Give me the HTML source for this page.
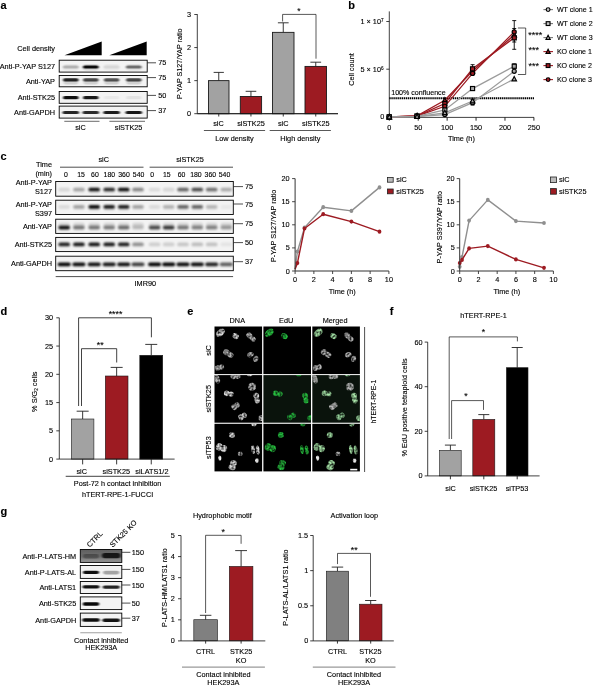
<!DOCTYPE html>
<html lang="en"><head><meta charset="utf-8"><title>Figure</title>
<style>html,body{margin:0;padding:0;background:#fff}body{width:593px;height:685px;overflow:hidden}svg{display:block}text{font-family:'Liberation Sans', sans-serif;stroke:#000;stroke-width:0.12px}</style>
</head><body>
<svg width="593" height="685" viewBox="0 0 593 685">
<defs>
<filter id="b1" x="-30%" y="-80%" width="160%" height="260%"><feGaussianBlur stdDeviation="1.0 0.65"/></filter>
<filter id="b2" x="-30%" y="-80%" width="160%" height="260%"><feGaussianBlur stdDeviation="1.0 0.8"/></filter>
<filter id="cb" x="0" y="0" width="100%" height="100%"><feTurbulence type="fractalNoise" baseFrequency="0.5" numOctaves="2" seed="4" result="n"/><feColorMatrix in="n" type="matrix" values="0 0 0 0 0 0 0 0 0 0 0 0 0 0 0 2.0 0 0 0 -0.3" result="a"/><feGaussianBlur in="SourceGraphic" stdDeviation="0.5" result="g"/><feComposite in="g" in2="a" operator="in" result="m"/><feGaussianBlur in="m" stdDeviation="0.3"/></filter>
<linearGradient id="hm" x1="0" y1="0" x2="0" y2="1"><stop offset="0" stop-color="#5e5e5e"/><stop offset="0.55" stop-color="#707070"/><stop offset="1" stop-color="#9a9a9a"/></linearGradient>
<filter id="sb" x="-50%" y="-50%" width="200%" height="200%"><feGaussianBlur stdDeviation="0.45"/></filter>
</defs>
<rect width="593" height="685" fill="#fff"/>
<text x="0.6" y="8.9" font-size="11" text-anchor="start" font-weight="bold" fill="#000">a</text>
<text x="348.2" y="8.9" font-size="11" text-anchor="start" font-weight="bold" fill="#000">b</text>
<text x="0.4" y="160.3" font-size="11" text-anchor="start" font-weight="bold" fill="#000">c</text>
<text x="0.4" y="314.9" font-size="11" text-anchor="start" font-weight="bold" fill="#000">d</text>
<text x="187.3" y="315" font-size="11" text-anchor="start" font-weight="bold" fill="#000">e</text>
<text x="389.8" y="314.9" font-size="11" text-anchor="start" font-weight="bold" fill="#000">f</text>
<text x="0.4" y="514.5" font-size="11" text-anchor="start" font-weight="bold" fill="#000">g</text>
<g id="panel-a">
<text x="55" y="50.6" font-size="7.3" text-anchor="end" font-weight="normal" fill="#000">Cell density</text>
<polygon points="64.5,55.3 101.7,55.3 101.7,41.4" fill="#000"/>
<polygon points="109.3,55.3 146.7,55.3 146.7,41.4" fill="#000"/>
<clipPath id="c1"><rect x="59.2" y="60.2" width="88.0" height="11.9"/></clipPath>
<rect x="59.20" y="60.20" width="88.00" height="11.90" fill="#f3f3f3" stroke="none" stroke-width="0"/>
<g clip-path="url(#c1)">
<rect x="62.55" y="64.05" width="16.50" height="6.50" rx="3.25" fill="#000" opacity="0.052000000000000005" filter="url(#b1)"/>
<rect x="82.55" y="64.05" width="16.50" height="6.50" rx="3.25" fill="#000" opacity="0.125" filter="url(#b1)"/>
<rect x="103.35" y="64.05" width="16.50" height="6.50" rx="3.25" fill="#000" opacity="0.037" filter="url(#b1)"/>
<rect x="125.55" y="64.05" width="16.50" height="6.50" rx="3.25" fill="#000" opacity="0.08" filter="url(#b1)"/>
<rect x="63.05" y="65.40" width="15.50" height="3.20" rx="1.60" fill="#000" opacity="0.22" filter="url(#b1)"/>
<rect x="83.05" y="65.40" width="15.50" height="3.20" rx="1.60" fill="#000" opacity="0.95" filter="url(#b1)"/>
<rect x="103.85" y="65.40" width="15.50" height="3.20" rx="1.60" fill="#000" opacity="0.07" filter="url(#b1)"/>
<rect x="126.05" y="65.40" width="15.50" height="3.20" rx="1.60" fill="#000" opacity="0.5" filter="url(#b1)"/>
</g>
<rect x="59.20" y="60.20" width="88.00" height="11.90" fill="none" stroke="#000" stroke-width="0.9"/>
<text x="55" y="68.65" font-size="7.3" text-anchor="end" font-weight="normal" fill="#000">Anti-P-YAP S127</text>
<line x1="147.2" y1="62.8" x2="156" y2="62.8" stroke="#222" stroke-width="0.8"/>
<text x="158.3" y="65.39999999999999" font-size="7.3" text-anchor="start" font-weight="normal" fill="#000">75</text>
<clipPath id="c2"><rect x="59.2" y="75.5" width="88.0" height="11.3"/></clipPath>
<rect x="59.20" y="75.50" width="88.00" height="11.30" fill="#f3f3f3" stroke="none" stroke-width="0"/>
<g clip-path="url(#c2)">
<rect x="63.55" y="80.50" width="14.50" height="4.00" rx="2.00" fill="#000" opacity="0.14" filter="url(#b1)"/>
<rect x="83.55" y="80.50" width="14.50" height="4.00" rx="2.00" fill="#000" opacity="0.14" filter="url(#b1)"/>
<rect x="104.35" y="80.50" width="14.50" height="4.00" rx="2.00" fill="#000" opacity="0.14" filter="url(#b1)"/>
<rect x="126.55" y="80.50" width="14.50" height="4.00" rx="2.00" fill="#000" opacity="0.14" filter="url(#b1)"/>
<rect x="63.05" y="78.30" width="15.50" height="3.20" rx="1.60" fill="#000" opacity="0.85" filter="url(#b1)"/>
<rect x="83.05" y="78.30" width="15.50" height="3.20" rx="1.60" fill="#000" opacity="0.7" filter="url(#b1)"/>
<rect x="103.85" y="78.30" width="15.50" height="3.20" rx="1.60" fill="#000" opacity="0.65" filter="url(#b1)"/>
<rect x="126.05" y="78.30" width="15.50" height="3.20" rx="1.60" fill="#000" opacity="0.7" filter="url(#b1)"/>
</g>
<rect x="59.20" y="75.50" width="88.00" height="11.30" fill="none" stroke="#000" stroke-width="0.9"/>
<text x="55" y="83.65" font-size="7.3" text-anchor="end" font-weight="normal" fill="#000">Anti-YAP</text>
<line x1="147.2" y1="77.6" x2="156" y2="77.6" stroke="#222" stroke-width="0.8"/>
<text x="158.3" y="80.19999999999999" font-size="7.3" text-anchor="start" font-weight="normal" fill="#000">75</text>
<clipPath id="c3"><rect x="59.2" y="91.5" width="88.0" height="11.8"/></clipPath>
<rect x="59.20" y="91.50" width="88.00" height="11.80" fill="#f3f3f3" stroke="none" stroke-width="0"/>
<g clip-path="url(#c3)">
<rect x="63.05" y="96.10" width="15.50" height="3.20" rx="1.60" fill="#000" opacity="0.95" filter="url(#b1)"/>
<rect x="83.05" y="96.10" width="15.50" height="3.20" rx="1.60" fill="#000" opacity="0.9" filter="url(#b1)"/>
<rect x="103.85" y="96.10" width="15.50" height="3.20" rx="1.60" fill="#000" opacity="0.04" filter="url(#b1)"/>
<rect x="126.05" y="96.10" width="15.50" height="3.20" rx="1.60" fill="#000" opacity="0.06" filter="url(#b1)"/>
</g>
<rect x="59.20" y="91.50" width="88.00" height="11.80" fill="none" stroke="#000" stroke-width="0.9"/>
<text x="55" y="99.9" font-size="7.3" text-anchor="end" font-weight="normal" fill="#000">Anti-STK25</text>
<line x1="147.2" y1="95.4" x2="156" y2="95.4" stroke="#222" stroke-width="0.8"/>
<text x="158.3" y="98.0" font-size="7.3" text-anchor="start" font-weight="normal" fill="#000">50</text>
<clipPath id="c4"><rect x="59.2" y="106.1" width="88.0" height="12.0"/></clipPath>
<rect x="59.20" y="106.10" width="88.00" height="12.00" fill="#f3f3f3" stroke="none" stroke-width="0"/>
<g clip-path="url(#c4)">
<rect x="62.55" y="110.90" width="16.50" height="3.20" rx="1.60" fill="#000" opacity="0.85" filter="url(#b1)"/>
<rect x="82.55" y="110.90" width="16.50" height="3.20" rx="1.60" fill="#000" opacity="0.82" filter="url(#b1)"/>
<rect x="103.35" y="110.90" width="16.50" height="3.20" rx="1.60" fill="#000" opacity="0.88" filter="url(#b1)"/>
<rect x="125.55" y="110.90" width="16.50" height="3.20" rx="1.60" fill="#000" opacity="0.9" filter="url(#b1)"/>
</g>
<rect x="59.20" y="106.10" width="88.00" height="12.00" fill="none" stroke="#000" stroke-width="0.9"/>
<text x="55" y="114.6" font-size="7.3" text-anchor="end" font-weight="normal" fill="#000">Anti-GAPDH</text>
<line x1="147.2" y1="110.6" x2="156" y2="110.6" stroke="#222" stroke-width="0.8"/>
<text x="158.3" y="113.19999999999999" font-size="7.3" text-anchor="start" font-weight="normal" fill="#000">37</text>
<line x1="64.3" y1="121.3" x2="99.5" y2="121.3" stroke="#444" stroke-width="0.8"/>
<line x1="109.4" y1="121.3" x2="145" y2="121.3" stroke="#444" stroke-width="0.8"/>
<text x="80.4" y="129.8" font-size="7.3" text-anchor="middle" font-weight="normal" fill="#000">siC</text>
<text x="128.6" y="129.8" font-size="7.3" text-anchor="middle" font-weight="normal" fill="#000">siSTK25</text>
</g>
<g id="panel-a-bars">
<line x1="197.3" y1="14.2" x2="197.3" y2="113.7" stroke="#111" stroke-width="0.8"/>
<line x1="197.3" y1="113.7" x2="338" y2="113.7" stroke="#111" stroke-width="0.8"/>
<line x1="194.3" y1="113.7" x2="197.3" y2="113.7" stroke="#111" stroke-width="0.8"/>
<text x="191.0" y="116.2" font-size="7.3" text-anchor="end" font-weight="normal" fill="#000">0</text>
<line x1="194.3" y1="80.63333333333333" x2="197.3" y2="80.63333333333333" stroke="#111" stroke-width="0.8"/>
<text x="191.0" y="83.13333333333333" font-size="7.3" text-anchor="end" font-weight="normal" fill="#000">1</text>
<line x1="194.3" y1="47.56666666666666" x2="197.3" y2="47.56666666666666" stroke="#111" stroke-width="0.8"/>
<text x="191.0" y="50.06666666666666" font-size="7.3" text-anchor="end" font-weight="normal" fill="#000">2</text>
<line x1="194.3" y1="14.499999999999986" x2="197.3" y2="14.499999999999986" stroke="#111" stroke-width="0.8"/>
<text x="191.0" y="16.999999999999986" font-size="7.3" text-anchor="end" font-weight="normal" fill="#000">3</text>
<text x="181.6" y="63.8" font-size="7.1" text-anchor="middle" font-weight="normal" fill="#000" transform="rotate(-90 181.6 63.8)">P-YAP S127/YAP ratio</text>
<line x1="218.75" y1="80.63333333333333" x2="218.75" y2="72.4" stroke="#222" stroke-width="0.9"/>
<line x1="213.625" y1="72.4" x2="223.875" y2="72.4" stroke="#222" stroke-width="0.9"/>
<rect x="208.50" y="80.63" width="20.50" height="33.07" fill="#a2a2a2" stroke="#1a1a1a" stroke-width="0.9"/>
<line x1="218.75" y1="113.7" x2="218.75" y2="116.5" stroke="#222" stroke-width="0.9"/>
<line x1="250.95000000000002" y1="96.50533333333334" x2="250.95000000000002" y2="91.3" stroke="#222" stroke-width="0.9"/>
<line x1="245.625" y1="91.3" x2="256.27500000000003" y2="91.3" stroke="#222" stroke-width="0.9"/>
<rect x="240.30" y="96.51" width="21.30" height="17.19" fill="#9d1b22" stroke="#1a1a1a" stroke-width="0.9"/>
<line x1="250.95000000000002" y1="113.7" x2="250.95000000000002" y2="116.5" stroke="#222" stroke-width="0.9"/>
<line x1="283.25" y1="32.355999999999995" x2="283.25" y2="22.8" stroke="#222" stroke-width="0.9"/>
<line x1="277.875" y1="22.8" x2="288.625" y2="22.8" stroke="#222" stroke-width="0.9"/>
<rect x="272.50" y="32.36" width="21.50" height="81.34" fill="#a2a2a2" stroke="#1a1a1a" stroke-width="0.9"/>
<line x1="283.25" y1="113.7" x2="283.25" y2="116.5" stroke="#222" stroke-width="0.9"/>
<line x1="315.75" y1="66.41466666666668" x2="315.75" y2="62.2" stroke="#222" stroke-width="0.9"/>
<line x1="310.375" y1="62.2" x2="321.125" y2="62.2" stroke="#222" stroke-width="0.9"/>
<rect x="305.00" y="66.41" width="21.50" height="47.29" fill="#9d1b22" stroke="#1a1a1a" stroke-width="0.9"/>
<line x1="315.75" y1="113.7" x2="315.75" y2="116.5" stroke="#222" stroke-width="0.9"/>
<line x1="197.3" y1="113.7" x2="338" y2="113.7" stroke="#111" stroke-width="0.8"/>
<path d="M282.6 21.5 V14.4 H316 V58.7" stroke="#111" stroke-width="0.7" fill="none"/>
<text x="299" y="13.8" font-size="8.4" text-anchor="middle" font-weight="normal" fill="#000">*</text>
<text x="218.4" y="126.1" font-size="7.3" text-anchor="middle" font-weight="normal" fill="#000">siC</text>
<text x="251" y="126.1" font-size="7.3" text-anchor="middle" font-weight="normal" fill="#000">siSTK25</text>
<text x="283.2" y="126.1" font-size="7.3" text-anchor="middle" font-weight="normal" fill="#000">siC</text>
<text x="315.8" y="126.1" font-size="7.3" text-anchor="middle" font-weight="normal" fill="#000">siSTK25</text>
<line x1="203.9" y1="130.5" x2="265.1" y2="130.5" stroke="#111" stroke-width="0.7"/>
<line x1="269.7" y1="130.5" x2="330.9" y2="130.5" stroke="#111" stroke-width="0.7"/>
<text x="234.5" y="141.1" font-size="7.3" text-anchor="middle" font-weight="normal" fill="#000">Low density</text>
<text x="300.3" y="141.1" font-size="7.3" text-anchor="middle" font-weight="normal" fill="#000">High density</text>
</g>
<g id="panel-b">
<line x1="389.3" y1="11.4" x2="389.3" y2="117.4" stroke="#111" stroke-width="0.8"/>
<line x1="389.3" y1="117.4" x2="534" y2="117.4" stroke="#111" stroke-width="0.8"/>
<line x1="386.3" y1="116.9" x2="389.3" y2="116.9" stroke="#111" stroke-width="0.8"/>
<line x1="386.3" y1="69.2" x2="389.3" y2="69.2" stroke="#111" stroke-width="0.8"/>
<line x1="386.3" y1="21.5" x2="389.3" y2="21.5" stroke="#111" stroke-width="0.8"/>
<line x1="389.3" y1="117.4" x2="389.3" y2="120.7" stroke="#111" stroke-width="0.9"/>
<text x="389.3" y="129.6" font-size="7.3" text-anchor="middle" font-weight="normal" fill="#000">0</text>
<line x1="418.22" y1="117.4" x2="418.22" y2="120.7" stroke="#111" stroke-width="0.9"/>
<text x="418.22" y="129.6" font-size="7.3" text-anchor="middle" font-weight="normal" fill="#000">50</text>
<line x1="447.14" y1="117.4" x2="447.14" y2="120.7" stroke="#111" stroke-width="0.9"/>
<text x="447.14" y="129.6" font-size="7.3" text-anchor="middle" font-weight="normal" fill="#000">100</text>
<line x1="476.06" y1="117.4" x2="476.06" y2="120.7" stroke="#111" stroke-width="0.9"/>
<text x="476.06" y="129.6" font-size="7.3" text-anchor="middle" font-weight="normal" fill="#000">150</text>
<line x1="504.97999999999996" y1="117.4" x2="504.97999999999996" y2="120.7" stroke="#111" stroke-width="0.9"/>
<text x="504.97999999999996" y="129.6" font-size="7.3" text-anchor="middle" font-weight="normal" fill="#000">200</text>
<line x1="533.9" y1="117.4" x2="533.9" y2="120.7" stroke="#111" stroke-width="0.9"/>
<text x="533.9" y="129.6" font-size="7.3" text-anchor="middle" font-weight="normal" fill="#000">250</text>
<text x="384.4" y="119.4" font-size="7.3" text-anchor="end" font-weight="normal" fill="#000">0</text>
<text x="383.6" y="71.8" font-size="7.3" text-anchor="end" fill="#000">5 × 10<tspan font-size="4.7" dy="-2.3">6</tspan></text>
<text x="383.6" y="24.1" font-size="7.3" text-anchor="end" fill="#000">1 × 10<tspan font-size="4.7" dy="-2.3">7</tspan></text>
<text x="354" y="69.5" font-size="7.3" text-anchor="middle" font-weight="normal" fill="#000" transform="rotate(-90 354 69.5)">Cell count</text>
<text x="461.4" y="141" font-size="7.3" text-anchor="middle" font-weight="normal" fill="#000">Time (h)</text>
<text x="391.2" y="95.3" font-size="7.1" text-anchor="start" font-weight="normal" fill="#000">100% confluence</text>
<line x1="389.3" y1="98.2" x2="534" y2="98.2" stroke="#000" stroke-width="2.1" stroke-dasharray="1.4 0.65"/>
<polyline points="389.3,116.9 417.1,115.8 444.8,100.2 472.6,71.0 514.2,35.0" fill="none" stroke="#9d1b22" stroke-width="1.3"/>
<polyline points="389.3,116.9 417.1,116.0 444.8,103.5 472.6,68.8 514.2,37.8" fill="none" stroke="#9d1b22" stroke-width="1.3"/>
<polyline points="389.3,116.9 417.1,116.2 444.8,106.3 472.6,73.4 514.2,31.9" fill="none" stroke="#9d1b22" stroke-width="1.3"/>
<polyline points="389.3,116.9 417.1,116.5 444.8,114.6 472.6,102.7 514.2,71.3" fill="none" stroke="#9c9c9c" stroke-width="1.3"/>
<polyline points="389.3,116.9 417.1,116.3 444.8,110.0 472.6,88.6 514.2,66.2" fill="none" stroke="#9c9c9c" stroke-width="1.3"/>
<polyline points="389.3,116.9 417.1,116.6 444.8,112.8 472.6,101.0 514.2,78.9" fill="none" stroke="#9c9c9c" stroke-width="1.3"/>
<line x1="514.2343999999999" y1="20.6" x2="514.2343999999999" y2="49.3" stroke="#000" stroke-width="0.9"/>
<line x1="512.2343999999999" y1="20.6" x2="516.2343999999999" y2="20.6" stroke="#000" stroke-width="0.9"/>
<line x1="512.2343999999999" y1="49.3" x2="516.2343999999999" y2="49.3" stroke="#000" stroke-width="0.9"/>
<line x1="514.2343999999999" y1="28.5" x2="514.2343999999999" y2="42" stroke="#000" stroke-width="0.9"/>
<line x1="512.2343999999999" y1="28.5" x2="516.2343999999999" y2="28.5" stroke="#000" stroke-width="0.9"/>
<line x1="512.2343999999999" y1="42" x2="516.2343999999999" y2="42" stroke="#000" stroke-width="0.9"/>
<line x1="472.5896" y1="64.7" x2="472.5896" y2="74.5" stroke="#000" stroke-width="0.9"/>
<line x1="470.5896" y1="64.7" x2="474.5896" y2="64.7" stroke="#000" stroke-width="0.9"/>
<line x1="470.5896" y1="74.5" x2="474.5896" y2="74.5" stroke="#000" stroke-width="0.9"/>
<line x1="514.2343999999999" y1="63.8" x2="514.2343999999999" y2="69" stroke="#000" stroke-width="0.9"/>
<line x1="512.2343999999999" y1="63.8" x2="516.2343999999999" y2="63.8" stroke="#000" stroke-width="0.9"/>
<line x1="512.2343999999999" y1="69" x2="516.2343999999999" y2="69" stroke="#000" stroke-width="0.9"/>
<line x1="472.5896" y1="99.5" x2="472.5896" y2="105" stroke="#000" stroke-width="0.9"/>
<line x1="470.5896" y1="99.5" x2="474.5896" y2="99.5" stroke="#000" stroke-width="0.9"/>
<line x1="470.5896" y1="105" x2="474.5896" y2="105" stroke="#000" stroke-width="0.9"/>
<polygon points="389.3,114.5 391.6,118.8 387.1,118.8" fill="#9d1b22" stroke="#000" stroke-width="1.15"/>
<polygon points="417.1,113.3 419.3,117.6 414.8,117.6" fill="#9d1b22" stroke="#000" stroke-width="1.15"/>
<polygon points="444.8,97.8 447.1,102.0 442.6,102.0" fill="#9d1b22" stroke="#000" stroke-width="1.15"/>
<polygon points="472.6,68.5 474.8,72.8 470.3,72.8" fill="#9d1b22" stroke="#000" stroke-width="1.15"/>
<polygon points="514.2,32.6 516.5,36.8 512.0,36.8" fill="#9d1b22" stroke="#000" stroke-width="1.15"/>
<rect x="387.2" y="114.9" width="4.1" height="4.1" fill="#9d1b22" stroke="#000" stroke-width="1.15"/>
<rect x="415.0" y="114.0" width="4.1" height="4.1" fill="#9d1b22" stroke="#000" stroke-width="1.15"/>
<rect x="442.8" y="101.5" width="4.1" height="4.1" fill="#9d1b22" stroke="#000" stroke-width="1.15"/>
<rect x="470.5" y="66.8" width="4.1" height="4.1" fill="#9d1b22" stroke="#000" stroke-width="1.15"/>
<rect x="512.2" y="35.8" width="4.1" height="4.1" fill="#9d1b22" stroke="#000" stroke-width="1.15"/>
<circle cx="389.3" cy="116.9" r="2.05" fill="#9d1b22" stroke="#000" stroke-width="1.15"/>
<circle cx="417.1" cy="116.2" r="2.05" fill="#9d1b22" stroke="#000" stroke-width="1.15"/>
<circle cx="444.8" cy="106.3" r="2.05" fill="#9d1b22" stroke="#000" stroke-width="1.15"/>
<circle cx="472.6" cy="73.4" r="2.05" fill="#9d1b22" stroke="#000" stroke-width="1.15"/>
<circle cx="514.2" cy="31.9" r="2.05" fill="#9d1b22" stroke="#000" stroke-width="1.15"/>
<circle cx="389.3" cy="116.9" r="2.05" fill="#a8a8a8" stroke="#000" stroke-width="1.15"/>
<circle cx="417.1" cy="116.5" r="2.05" fill="#a8a8a8" stroke="#000" stroke-width="1.15"/>
<circle cx="444.8" cy="114.6" r="2.05" fill="#a8a8a8" stroke="#000" stroke-width="1.15"/>
<circle cx="472.6" cy="102.7" r="2.05" fill="#a8a8a8" stroke="#000" stroke-width="1.15"/>
<circle cx="514.2" cy="71.3" r="2.05" fill="#a8a8a8" stroke="#000" stroke-width="1.15"/>
<rect x="387.2" y="114.9" width="4.1" height="4.1" fill="#a8a8a8" stroke="#000" stroke-width="1.15"/>
<rect x="415.0" y="114.2" width="4.1" height="4.1" fill="#a8a8a8" stroke="#000" stroke-width="1.15"/>
<rect x="442.8" y="108.0" width="4.1" height="4.1" fill="#a8a8a8" stroke="#000" stroke-width="1.15"/>
<rect x="470.5" y="86.5" width="4.1" height="4.1" fill="#a8a8a8" stroke="#000" stroke-width="1.15"/>
<rect x="512.2" y="64.2" width="4.1" height="4.1" fill="#a8a8a8" stroke="#000" stroke-width="1.15"/>
<polygon points="389.3,114.5 391.6,118.8 387.1,118.8" fill="#a8a8a8" stroke="#000" stroke-width="1.15"/>
<polygon points="417.1,114.1 419.3,118.4 414.8,118.4" fill="#a8a8a8" stroke="#000" stroke-width="1.15"/>
<polygon points="444.8,110.3 447.1,114.6 442.6,114.6" fill="#a8a8a8" stroke="#000" stroke-width="1.15"/>
<polygon points="472.6,98.5 474.8,102.8 470.3,102.8" fill="#a8a8a8" stroke="#000" stroke-width="1.15"/>
<polygon points="514.2,76.5 516.5,80.8 512.0,80.8" fill="#a8a8a8" stroke="#000" stroke-width="1.15"/>
<path d="M517.9 28 H525.7 V74.5 H517.9" stroke="#111" stroke-width="0.7" fill="none"/>
<text x="528.2" y="37.6" font-size="9" text-anchor="start" font-weight="normal" fill="#000">****</text>
<text x="528.4" y="52.8" font-size="9" text-anchor="start" font-weight="normal" fill="#000">***</text>
<text x="528.4" y="68.6" font-size="9" text-anchor="start" font-weight="normal" fill="#000">***</text>
<line x1="543.4" y1="9.6" x2="553" y2="9.6" stroke="#777" stroke-width="1.1"/>
<circle cx="548.1" cy="9.6" r="1.9" fill="#c4c4c4" stroke="#000" stroke-width="1.15"/>
<text x="556.9" y="12.2" font-size="7.1" text-anchor="start" font-weight="normal" fill="#000">WT clone 1</text>
<line x1="543.4" y1="23.6" x2="553" y2="23.6" stroke="#777" stroke-width="1.1"/>
<rect x="546.2" y="21.7" width="3.8" height="3.8" fill="#c4c4c4" stroke="#000" stroke-width="1.15"/>
<text x="556.9" y="26.200000000000003" font-size="7.1" text-anchor="start" font-weight="normal" fill="#000">WT clone 2</text>
<line x1="543.4" y1="37.6" x2="553" y2="37.6" stroke="#777" stroke-width="1.1"/>
<polygon points="548.1,35.3 550.2,39.3 546.0,39.3" fill="#c4c4c4" stroke="#000" stroke-width="1.15"/>
<text x="556.9" y="40.2" font-size="7.1" text-anchor="start" font-weight="normal" fill="#000">WT clone 3</text>
<line x1="543.4" y1="51.6" x2="553" y2="51.6" stroke="#9d1b22" stroke-width="1.1"/>
<polygon points="548.1,49.3 550.2,53.3 546.0,53.3" fill="#9d1b22" stroke="#000" stroke-width="1.15"/>
<text x="556.9" y="54.2" font-size="7.1" text-anchor="start" font-weight="normal" fill="#000">KO clone 1</text>
<line x1="543.4" y1="65.6" x2="553" y2="65.6" stroke="#9d1b22" stroke-width="1.1"/>
<rect x="546.2" y="63.7" width="3.8" height="3.8" fill="#9d1b22" stroke="#000" stroke-width="1.15"/>
<text x="556.9" y="68.19999999999999" font-size="7.1" text-anchor="start" font-weight="normal" fill="#000">KO clone 2</text>
<line x1="543.4" y1="79.6" x2="553" y2="79.6" stroke="#9d1b22" stroke-width="1.1"/>
<circle cx="548.1" cy="79.6" r="1.9" fill="#9d1b22" stroke="#000" stroke-width="1.15"/>
<text x="556.9" y="82.19999999999999" font-size="7.1" text-anchor="start" font-weight="normal" fill="#000">KO clone 3</text>
</g>
<g id="panel-c">
<text x="52" y="167.2" font-size="7.3" text-anchor="end" font-weight="normal" fill="#000">Time</text>
<text x="52" y="176.1" font-size="7.3" text-anchor="end" font-weight="normal" fill="#000">(min)</text>
<line x1="60" y1="167.2" x2="143.5" y2="167.2" stroke="#222" stroke-width="0.8"/>
<line x1="149.6" y1="167.2" x2="233" y2="167.2" stroke="#222" stroke-width="0.8"/>
<text x="103.7" y="162.2" font-size="7.3" text-anchor="middle" font-weight="normal" fill="#000">siC</text>
<text x="190" y="162.2" font-size="7.3" text-anchor="middle" font-weight="normal" fill="#000">siSTK25</text>
<text x="65.8" y="176.6" font-size="6.9" text-anchor="middle" font-weight="normal" fill="#000">0</text>
<text x="81" y="176.6" font-size="6.9" text-anchor="middle" font-weight="normal" fill="#000">15</text>
<text x="94.9" y="176.6" font-size="6.9" text-anchor="middle" font-weight="normal" fill="#000">60</text>
<text x="109.3" y="176.6" font-size="6.9" text-anchor="middle" font-weight="normal" fill="#000">180</text>
<text x="124" y="176.6" font-size="6.9" text-anchor="middle" font-weight="normal" fill="#000">360</text>
<text x="138.6" y="176.6" font-size="6.9" text-anchor="middle" font-weight="normal" fill="#000">540</text>
<text x="152.1" y="176.6" font-size="6.9" text-anchor="middle" font-weight="normal" fill="#000">0</text>
<text x="166.8" y="176.6" font-size="6.9" text-anchor="middle" font-weight="normal" fill="#000">15</text>
<text x="181.5" y="176.6" font-size="6.9" text-anchor="middle" font-weight="normal" fill="#000">60</text>
<text x="195.9" y="176.6" font-size="6.9" text-anchor="middle" font-weight="normal" fill="#000">180</text>
<text x="210.3" y="176.6" font-size="6.9" text-anchor="middle" font-weight="normal" fill="#000">360</text>
<text x="224.5" y="176.6" font-size="6.9" text-anchor="middle" font-weight="normal" fill="#000">540</text>
<clipPath id="c5"><rect x="55.7" y="181.5" width="177.6" height="14.7"/></clipPath>
<rect x="55.70" y="181.50" width="177.60" height="14.70" fill="#f3f3f3" stroke="none" stroke-width="0"/>
<g clip-path="url(#c5)">
<rect x="58.40" y="187.65" width="11.60" height="3.70" rx="1.85" fill="#000" opacity="0.12" filter="url(#b2)"/>
<rect x="73.10" y="187.65" width="11.60" height="3.70" rx="1.85" fill="#000" opacity="0.33" filter="url(#b2)"/>
<rect x="88.40" y="187.65" width="11.60" height="3.70" rx="1.85" fill="#000" opacity="0.95" filter="url(#b2)"/>
<rect x="103.40" y="187.65" width="11.60" height="3.70" rx="1.85" fill="#000" opacity="0.85" filter="url(#b2)"/>
<rect x="117.90" y="187.65" width="11.60" height="3.70" rx="1.85" fill="#000" opacity="0.97" filter="url(#b2)"/>
<rect x="132.20" y="187.65" width="11.60" height="3.70" rx="1.85" fill="#000" opacity="0.45" filter="url(#b2)"/>
<rect x="148.80" y="187.65" width="11.60" height="3.70" rx="1.85" fill="#000" opacity="0.1" filter="url(#b2)"/>
<rect x="162.90" y="187.65" width="11.60" height="3.70" rx="1.85" fill="#000" opacity="0.12" filter="url(#b2)"/>
<rect x="177.20" y="187.65" width="11.60" height="3.70" rx="1.85" fill="#000" opacity="0.6" filter="url(#b2)"/>
<rect x="191.50" y="187.65" width="11.60" height="3.70" rx="1.85" fill="#000" opacity="0.7" filter="url(#b2)"/>
<rect x="205.90" y="187.65" width="11.60" height="3.70" rx="1.85" fill="#000" opacity="0.55" filter="url(#b2)"/>
<rect x="220.50" y="187.65" width="11.60" height="3.70" rx="1.85" fill="#000" opacity="0.3" filter="url(#b2)"/>
<rect x="58.40" y="190.10" width="11.60" height="4.00" rx="2.00" fill="#000" opacity="0.006" filter="url(#b2)"/>
<rect x="73.10" y="190.10" width="11.60" height="4.00" rx="2.00" fill="#000" opacity="0.0165" filter="url(#b2)"/>
<rect x="88.40" y="190.10" width="11.60" height="4.00" rx="2.00" fill="#000" opacity="0.0475" filter="url(#b2)"/>
<rect x="103.40" y="190.10" width="11.60" height="4.00" rx="2.00" fill="#000" opacity="0.0425" filter="url(#b2)"/>
<rect x="117.90" y="190.10" width="11.60" height="4.00" rx="2.00" fill="#000" opacity="0.0485" filter="url(#b2)"/>
<rect x="132.20" y="190.10" width="11.60" height="4.00" rx="2.00" fill="#000" opacity="0.022500000000000003" filter="url(#b2)"/>
<rect x="148.80" y="190.10" width="11.60" height="4.00" rx="2.00" fill="#000" opacity="0.005000000000000001" filter="url(#b2)"/>
<rect x="162.90" y="190.10" width="11.60" height="4.00" rx="2.00" fill="#000" opacity="0.006" filter="url(#b2)"/>
<rect x="177.20" y="190.10" width="11.60" height="4.00" rx="2.00" fill="#000" opacity="0.03" filter="url(#b2)"/>
<rect x="191.50" y="190.10" width="11.60" height="4.00" rx="2.00" fill="#000" opacity="0.034999999999999996" filter="url(#b2)"/>
<rect x="205.90" y="190.10" width="11.60" height="4.00" rx="2.00" fill="#000" opacity="0.027500000000000004" filter="url(#b2)"/>
<rect x="220.50" y="190.10" width="11.60" height="4.00" rx="2.00" fill="#000" opacity="0.015" filter="url(#b2)"/>
</g>
<rect x="55.70" y="181.50" width="177.60" height="14.70" fill="none" stroke="#000" stroke-width="0.9"/>
<text x="52" y="185.3" font-size="7.3" text-anchor="end" font-weight="normal" fill="#000">Anti-P-YAP</text>
<text x="52" y="194.3" font-size="7.3" text-anchor="end" font-weight="normal" fill="#000">S127</text>
<line x1="233.3" y1="186.6" x2="243.0" y2="186.6" stroke="#222" stroke-width="0.8"/>
<text x="244.9" y="189.2" font-size="7.3" text-anchor="start" font-weight="normal" fill="#000">75</text>
<clipPath id="c6"><rect x="55.7" y="200.2" width="177.6" height="14.3"/></clipPath>
<rect x="55.70" y="200.20" width="177.60" height="14.30" fill="#f3f3f3" stroke="none" stroke-width="0"/>
<g clip-path="url(#c6)">
<rect x="58.40" y="204.95" width="11.60" height="3.70" rx="1.85" fill="#000" opacity="0.1" filter="url(#b2)"/>
<rect x="73.10" y="204.95" width="11.60" height="3.70" rx="1.85" fill="#000" opacity="0.33" filter="url(#b2)"/>
<rect x="88.40" y="204.95" width="11.60" height="3.70" rx="1.85" fill="#000" opacity="0.97" filter="url(#b2)"/>
<rect x="103.40" y="204.95" width="11.60" height="3.70" rx="1.85" fill="#000" opacity="0.9" filter="url(#b2)"/>
<rect x="117.90" y="204.95" width="11.60" height="3.70" rx="1.85" fill="#000" opacity="0.88" filter="url(#b2)"/>
<rect x="132.20" y="204.95" width="11.60" height="3.70" rx="1.85" fill="#000" opacity="0.33" filter="url(#b2)"/>
<rect x="148.80" y="204.95" width="11.60" height="3.70" rx="1.85" fill="#000" opacity="0.1" filter="url(#b2)"/>
<rect x="162.90" y="204.95" width="11.60" height="3.70" rx="1.85" fill="#000" opacity="0.27" filter="url(#b2)"/>
<rect x="177.20" y="204.95" width="11.60" height="3.70" rx="1.85" fill="#000" opacity="0.58" filter="url(#b2)"/>
<rect x="191.50" y="204.95" width="11.60" height="3.70" rx="1.85" fill="#000" opacity="0.58" filter="url(#b2)"/>
<rect x="205.90" y="204.95" width="11.60" height="3.70" rx="1.85" fill="#000" opacity="0.25" filter="url(#b2)"/>
<rect x="220.50" y="204.95" width="11.60" height="3.70" rx="1.85" fill="#000" opacity="0.04" filter="url(#b2)"/>
<rect x="58.40" y="207.40" width="11.60" height="4.00" rx="2.00" fill="#000" opacity="0.005000000000000001" filter="url(#b2)"/>
<rect x="73.10" y="207.40" width="11.60" height="4.00" rx="2.00" fill="#000" opacity="0.0165" filter="url(#b2)"/>
<rect x="88.40" y="207.40" width="11.60" height="4.00" rx="2.00" fill="#000" opacity="0.0485" filter="url(#b2)"/>
<rect x="103.40" y="207.40" width="11.60" height="4.00" rx="2.00" fill="#000" opacity="0.045000000000000005" filter="url(#b2)"/>
<rect x="117.90" y="207.40" width="11.60" height="4.00" rx="2.00" fill="#000" opacity="0.044000000000000004" filter="url(#b2)"/>
<rect x="132.20" y="207.40" width="11.60" height="4.00" rx="2.00" fill="#000" opacity="0.0165" filter="url(#b2)"/>
<rect x="148.80" y="207.40" width="11.60" height="4.00" rx="2.00" fill="#000" opacity="0.005000000000000001" filter="url(#b2)"/>
<rect x="162.90" y="207.40" width="11.60" height="4.00" rx="2.00" fill="#000" opacity="0.013500000000000002" filter="url(#b2)"/>
<rect x="177.20" y="207.40" width="11.60" height="4.00" rx="2.00" fill="#000" opacity="0.028999999999999998" filter="url(#b2)"/>
<rect x="191.50" y="207.40" width="11.60" height="4.00" rx="2.00" fill="#000" opacity="0.028999999999999998" filter="url(#b2)"/>
<rect x="205.90" y="207.40" width="11.60" height="4.00" rx="2.00" fill="#000" opacity="0.0125" filter="url(#b2)"/>
<rect x="220.50" y="207.40" width="11.60" height="4.00" rx="2.00" fill="#000" opacity="0.002" filter="url(#b2)"/>
</g>
<rect x="55.70" y="200.20" width="177.60" height="14.30" fill="none" stroke="#000" stroke-width="0.9"/>
<text x="52" y="207.0" font-size="7.3" text-anchor="end" font-weight="normal" fill="#000">Anti-P-YAP</text>
<text x="52" y="216.0" font-size="7.3" text-anchor="end" font-weight="normal" fill="#000">S397</text>
<line x1="233.3" y1="204.0" x2="243.0" y2="204.0" stroke="#222" stroke-width="0.8"/>
<text x="244.9" y="206.6" font-size="7.3" text-anchor="start" font-weight="normal" fill="#000">75</text>
<clipPath id="c7"><rect x="55.7" y="219.2" width="177.6" height="14.2"/></clipPath>
<rect x="55.70" y="219.20" width="177.60" height="14.20" fill="#f3f3f3" stroke="none" stroke-width="0"/>
<g clip-path="url(#c7)">
<rect x="58.40" y="222.75" width="11.60" height="4.50" rx="2.25" fill="#000" opacity="0.13" filter="url(#b2)"/>
<rect x="73.10" y="222.75" width="11.60" height="4.50" rx="2.25" fill="#000" opacity="0.13" filter="url(#b2)"/>
<rect x="88.40" y="222.75" width="11.60" height="4.50" rx="2.25" fill="#000" opacity="0.13" filter="url(#b2)"/>
<rect x="103.40" y="222.75" width="11.60" height="4.50" rx="2.25" fill="#000" opacity="0.13" filter="url(#b2)"/>
<rect x="117.90" y="222.75" width="11.60" height="4.50" rx="2.25" fill="#000" opacity="0.13" filter="url(#b2)"/>
<rect x="132.20" y="222.75" width="11.60" height="4.50" rx="2.25" fill="#000" opacity="0.13" filter="url(#b2)"/>
<rect x="148.80" y="222.75" width="11.60" height="4.50" rx="2.25" fill="#000" opacity="0.13" filter="url(#b2)"/>
<rect x="162.90" y="222.75" width="11.60" height="4.50" rx="2.25" fill="#000" opacity="0.13" filter="url(#b2)"/>
<rect x="177.20" y="222.75" width="11.60" height="4.50" rx="2.25" fill="#000" opacity="0.13" filter="url(#b2)"/>
<rect x="191.50" y="222.75" width="11.60" height="4.50" rx="2.25" fill="#000" opacity="0.13" filter="url(#b2)"/>
<rect x="205.90" y="222.75" width="11.60" height="4.50" rx="2.25" fill="#000" opacity="0.13" filter="url(#b2)"/>
<rect x="220.50" y="222.75" width="11.60" height="4.50" rx="2.25" fill="#000" opacity="0.13" filter="url(#b2)"/>
<rect x="58.40" y="225.75" width="11.60" height="3.70" rx="1.85" fill="#000" opacity="0.95" filter="url(#b2)"/>
<rect x="73.10" y="225.75" width="11.60" height="3.70" rx="1.85" fill="#000" opacity="0.5" filter="url(#b2)"/>
<rect x="88.40" y="225.75" width="11.60" height="3.70" rx="1.85" fill="#000" opacity="0.5" filter="url(#b2)"/>
<rect x="103.40" y="225.75" width="11.60" height="3.70" rx="1.85" fill="#000" opacity="0.48" filter="url(#b2)"/>
<rect x="117.90" y="225.75" width="11.60" height="3.70" rx="1.85" fill="#000" opacity="0.55" filter="url(#b2)"/>
<rect x="132.20" y="225.75" width="11.60" height="3.70" rx="1.85" fill="#000" opacity="0.2" filter="url(#b2)"/>
<rect x="148.80" y="225.75" width="11.60" height="3.70" rx="1.85" fill="#000" opacity="0.7" filter="url(#b2)"/>
<rect x="162.90" y="225.75" width="11.60" height="3.70" rx="1.85" fill="#000" opacity="0.78" filter="url(#b2)"/>
<rect x="177.20" y="225.75" width="11.60" height="3.70" rx="1.85" fill="#000" opacity="0.5" filter="url(#b2)"/>
<rect x="191.50" y="225.75" width="11.60" height="3.70" rx="1.85" fill="#000" opacity="0.45" filter="url(#b2)"/>
<rect x="205.90" y="225.75" width="11.60" height="3.70" rx="1.85" fill="#000" opacity="0.45" filter="url(#b2)"/>
<rect x="220.50" y="225.75" width="11.60" height="3.70" rx="1.85" fill="#000" opacity="0.35" filter="url(#b2)"/>
</g>
<rect x="55.70" y="219.20" width="177.60" height="14.20" fill="none" stroke="#000" stroke-width="0.9"/>
<text x="52" y="228.79999999999998" font-size="7.3" text-anchor="end" font-weight="normal" fill="#000">Anti-YAP</text>
<line x1="233.3" y1="223.7" x2="243.0" y2="223.7" stroke="#222" stroke-width="0.8"/>
<text x="244.9" y="226.29999999999998" font-size="7.3" text-anchor="start" font-weight="normal" fill="#000">75</text>
<clipPath id="c8"><rect x="55.7" y="237.4" width="177.6" height="14.2"/></clipPath>
<rect x="55.70" y="237.40" width="177.60" height="14.20" fill="#f3f3f3" stroke="none" stroke-width="0"/>
<g clip-path="url(#c8)">
<rect x="58.40" y="242.55" width="11.60" height="3.70" rx="1.85" fill="#000" opacity="0.88" filter="url(#b2)"/>
<rect x="73.10" y="242.55" width="11.60" height="3.70" rx="1.85" fill="#000" opacity="0.9" filter="url(#b2)"/>
<rect x="88.40" y="242.55" width="11.60" height="3.70" rx="1.85" fill="#000" opacity="0.92" filter="url(#b2)"/>
<rect x="103.40" y="242.55" width="11.60" height="3.70" rx="1.85" fill="#000" opacity="0.9" filter="url(#b2)"/>
<rect x="117.90" y="242.55" width="11.60" height="3.70" rx="1.85" fill="#000" opacity="0.88" filter="url(#b2)"/>
<rect x="132.20" y="242.55" width="11.60" height="3.70" rx="1.85" fill="#000" opacity="0.4" filter="url(#b2)"/>
<rect x="148.80" y="242.55" width="11.60" height="3.70" rx="1.85" fill="#000" opacity="0.15" filter="url(#b2)"/>
<rect x="162.90" y="242.55" width="11.60" height="3.70" rx="1.85" fill="#000" opacity="0.15" filter="url(#b2)"/>
<rect x="177.20" y="242.55" width="11.60" height="3.70" rx="1.85" fill="#000" opacity="0.18" filter="url(#b2)"/>
<rect x="191.50" y="242.55" width="11.60" height="3.70" rx="1.85" fill="#000" opacity="0.22" filter="url(#b2)"/>
<rect x="205.90" y="242.55" width="11.60" height="3.70" rx="1.85" fill="#000" opacity="0.2" filter="url(#b2)"/>
<rect x="220.50" y="242.55" width="11.60" height="3.70" rx="1.85" fill="#000" opacity="0.06" filter="url(#b2)"/>
</g>
<rect x="55.70" y="237.40" width="177.60" height="14.20" fill="none" stroke="#000" stroke-width="0.9"/>
<text x="52" y="247.0" font-size="7.3" text-anchor="end" font-weight="normal" fill="#000">Anti-STK25</text>
<line x1="233.3" y1="242.6" x2="243.0" y2="242.6" stroke="#222" stroke-width="0.8"/>
<text x="244.9" y="245.2" font-size="7.3" text-anchor="start" font-weight="normal" fill="#000">50</text>
<clipPath id="c9"><rect x="55.7" y="256.2" width="177.6" height="14.5"/></clipPath>
<rect x="55.70" y="256.20" width="177.60" height="14.50" fill="#f3f3f3" stroke="none" stroke-width="0"/>
<g clip-path="url(#c9)">
<rect x="57.70" y="262.45" width="13.00" height="3.70" rx="1.85" fill="#000" opacity="1" filter="url(#b2)"/>
<rect x="72.40" y="262.45" width="13.00" height="3.70" rx="1.85" fill="#000" opacity="0.97" filter="url(#b2)"/>
<rect x="87.70" y="262.45" width="13.00" height="3.70" rx="1.85" fill="#000" opacity="0.95" filter="url(#b2)"/>
<rect x="102.70" y="262.45" width="13.00" height="3.70" rx="1.85" fill="#000" opacity="0.92" filter="url(#b2)"/>
<rect x="117.20" y="262.45" width="13.00" height="3.70" rx="1.85" fill="#000" opacity="0.95" filter="url(#b2)"/>
<rect x="131.50" y="262.45" width="13.00" height="3.70" rx="1.85" fill="#000" opacity="0.75" filter="url(#b2)"/>
<rect x="148.10" y="262.45" width="13.00" height="3.70" rx="1.85" fill="#000" opacity="1" filter="url(#b2)"/>
<rect x="162.20" y="262.45" width="13.00" height="3.70" rx="1.85" fill="#000" opacity="1" filter="url(#b2)"/>
<rect x="176.50" y="262.45" width="13.00" height="3.70" rx="1.85" fill="#000" opacity="0.97" filter="url(#b2)"/>
<rect x="190.80" y="262.45" width="13.00" height="3.70" rx="1.85" fill="#000" opacity="0.97" filter="url(#b2)"/>
<rect x="205.20" y="262.45" width="13.00" height="3.70" rx="1.85" fill="#000" opacity="0.88" filter="url(#b2)"/>
<rect x="219.80" y="262.45" width="13.00" height="3.70" rx="1.85" fill="#000" opacity="0.62" filter="url(#b2)"/>
</g>
<rect x="55.70" y="256.20" width="177.60" height="14.50" fill="none" stroke="#000" stroke-width="0.9"/>
<text x="52" y="265.95" font-size="7.3" text-anchor="end" font-weight="normal" fill="#000">Anti-GAPDH</text>
<line x1="233.3" y1="261.7" x2="243.0" y2="261.7" stroke="#222" stroke-width="0.8"/>
<text x="244.9" y="264.3" font-size="7.3" text-anchor="start" font-weight="normal" fill="#000">37</text>
<line x1="55.7" y1="276.6" x2="233.1" y2="276.6" stroke="#222" stroke-width="0.8"/>
<text x="145.3" y="286.2" font-size="7.3" text-anchor="middle" font-weight="normal" fill="#000">IMR90</text>
</g>
<g id="panel-c-s127">
<polyline points="295.1,269.2 297.4,251.6 304.5,227.6 323.2,207.2 351.4,210.9 379.5,187.4" fill="none" stroke="#8f8f8f" stroke-width="1.4" stroke-linejoin="round"/>
<ellipse cx="297.4" cy="251.6" rx="1.9" ry="2.1" fill="#8f8f8f"/>
<ellipse cx="304.5" cy="227.6" rx="1.9" ry="2.1" fill="#8f8f8f"/>
<ellipse cx="323.2" cy="207.2" rx="1.9" ry="2.1" fill="#8f8f8f"/>
<ellipse cx="351.4" cy="210.9" rx="1.9" ry="2.1" fill="#8f8f8f"/>
<ellipse cx="379.5" cy="187.4" rx="1.9" ry="2.1" fill="#8f8f8f"/>
<polyline points="295.1,269.2 297.4,263.1 304.5,228.5 323.2,214.2 351.4,221.6 379.5,231.7" fill="none" stroke="#9d1b22" stroke-width="1.4" stroke-linejoin="round"/>
<ellipse cx="297.4" cy="263.1" rx="1.9" ry="2.1" fill="#9d1b22"/>
<ellipse cx="304.5" cy="228.5" rx="1.9" ry="2.1" fill="#9d1b22"/>
<ellipse cx="323.2" cy="214.2" rx="1.9" ry="2.1" fill="#9d1b22"/>
<ellipse cx="351.4" cy="221.6" rx="1.9" ry="2.1" fill="#9d1b22"/>
<ellipse cx="379.5" cy="231.7" rx="1.9" ry="2.1" fill="#9d1b22"/>
<line x1="295.1" y1="178.6" x2="295.1" y2="271.0" stroke="#333" stroke-width="1.0"/>
<line x1="295.1" y1="271.0" x2="388.9" y2="271.0" stroke="#333" stroke-width="1.0"/>
<line x1="292.1" y1="271.0" x2="295.1" y2="271.0" stroke="#333" stroke-width="0.9"/>
<text x="289.70000000000005" y="273.5" font-size="7.3" text-anchor="end" font-weight="normal" fill="#000">0</text>
<line x1="292.1" y1="247.9" x2="295.1" y2="247.9" stroke="#333" stroke-width="0.9"/>
<text x="289.70000000000005" y="250.4" font-size="7.3" text-anchor="end" font-weight="normal" fill="#000">5</text>
<line x1="292.1" y1="224.8" x2="295.1" y2="224.8" stroke="#333" stroke-width="0.9"/>
<text x="289.70000000000005" y="227.3" font-size="7.3" text-anchor="end" font-weight="normal" fill="#000">10</text>
<line x1="292.1" y1="201.7" x2="295.1" y2="201.7" stroke="#333" stroke-width="0.9"/>
<text x="289.70000000000005" y="204.2" font-size="7.3" text-anchor="end" font-weight="normal" fill="#000">15</text>
<line x1="292.1" y1="178.6" x2="295.1" y2="178.6" stroke="#333" stroke-width="0.9"/>
<text x="289.70000000000005" y="181.1" font-size="7.3" text-anchor="end" font-weight="normal" fill="#000">20</text>
<line x1="295.1" y1="271.0" x2="295.1" y2="274.0" stroke="#333" stroke-width="0.9"/>
<text x="295.1" y="282.2" font-size="7.3" text-anchor="middle" font-weight="normal" fill="#000">0</text>
<line x1="313.86" y1="271.0" x2="313.86" y2="274.0" stroke="#333" stroke-width="0.9"/>
<text x="313.86" y="282.2" font-size="7.3" text-anchor="middle" font-weight="normal" fill="#000">2</text>
<line x1="332.62" y1="271.0" x2="332.62" y2="274.0" stroke="#333" stroke-width="0.9"/>
<text x="332.62" y="282.2" font-size="7.3" text-anchor="middle" font-weight="normal" fill="#000">4</text>
<line x1="351.38" y1="271.0" x2="351.38" y2="274.0" stroke="#333" stroke-width="0.9"/>
<text x="351.38" y="282.2" font-size="7.3" text-anchor="middle" font-weight="normal" fill="#000">6</text>
<line x1="370.14" y1="271.0" x2="370.14" y2="274.0" stroke="#333" stroke-width="0.9"/>
<text x="370.14" y="282.2" font-size="7.3" text-anchor="middle" font-weight="normal" fill="#000">8</text>
<line x1="388.9" y1="271.0" x2="388.9" y2="274.0" stroke="#333" stroke-width="0.9"/>
<text x="388.9" y="282.2" font-size="7.3" text-anchor="middle" font-weight="normal" fill="#000">10</text>
<text x="342.3" y="293.6" font-size="7.3" text-anchor="middle" font-weight="normal" fill="#000">Time (h)</text>
<text x="275.8" y="225.8" font-size="7.3" text-anchor="middle" font-weight="normal" fill="#000" transform="rotate(-90 275.8 225.8)">P-YAP S127/YAP ratio</text>
<rect x="387.40" y="177.40" width="5.80" height="4.80" fill="#bcbcbc" stroke="#222" stroke-width="0.8"/>
<rect x="387.40" y="189.00" width="5.80" height="4.80" fill="#9d1b22" stroke="#222" stroke-width="0.8"/>
<text x="396.3" y="182.2" font-size="7.3" text-anchor="start" font-weight="normal" fill="#000">siC</text>
<text x="396.3" y="194.0" font-size="7.3" text-anchor="start" font-weight="normal" fill="#000">siSTK25</text>
</g>
<g id="panel-c-s397">
<polyline points="459.7,266.8 462.0,257.1 469.1,220.6 487.8,199.9 515.9,221.1 544.0,223.0" fill="none" stroke="#8f8f8f" stroke-width="1.4" stroke-linejoin="round"/>
<ellipse cx="459.7" cy="266.8" rx="1.9" ry="2.1" fill="#8f8f8f"/>
<ellipse cx="462.0" cy="257.1" rx="1.9" ry="2.1" fill="#8f8f8f"/>
<ellipse cx="469.1" cy="220.6" rx="1.9" ry="2.1" fill="#8f8f8f"/>
<ellipse cx="487.8" cy="199.9" rx="1.9" ry="2.1" fill="#8f8f8f"/>
<ellipse cx="515.9" cy="221.1" rx="1.9" ry="2.1" fill="#8f8f8f"/>
<ellipse cx="544.0" cy="223.0" rx="1.9" ry="2.1" fill="#8f8f8f"/>
<polyline points="459.7,263.1 462.0,259.9 469.1,248.4 487.8,246.1 515.9,259.4 544.0,267.8" fill="none" stroke="#9d1b22" stroke-width="1.4" stroke-linejoin="round"/>
<ellipse cx="459.7" cy="263.1" rx="1.9" ry="2.1" fill="#9d1b22"/>
<ellipse cx="462.0" cy="259.9" rx="1.9" ry="2.1" fill="#9d1b22"/>
<ellipse cx="469.1" cy="248.4" rx="1.9" ry="2.1" fill="#9d1b22"/>
<ellipse cx="487.8" cy="246.1" rx="1.9" ry="2.1" fill="#9d1b22"/>
<ellipse cx="515.9" cy="259.4" rx="1.9" ry="2.1" fill="#9d1b22"/>
<ellipse cx="544.0" cy="267.8" rx="1.9" ry="2.1" fill="#9d1b22"/>
<line x1="459.7" y1="178.6" x2="459.7" y2="271.0" stroke="#333" stroke-width="1.0"/>
<line x1="459.7" y1="271.0" x2="553.4" y2="271.0" stroke="#333" stroke-width="1.0"/>
<line x1="456.7" y1="271.0" x2="459.7" y2="271.0" stroke="#333" stroke-width="0.9"/>
<text x="454.7" y="273.5" font-size="7.3" text-anchor="end" font-weight="normal" fill="#000">0</text>
<line x1="456.7" y1="247.9" x2="459.7" y2="247.9" stroke="#333" stroke-width="0.9"/>
<text x="454.7" y="250.4" font-size="7.3" text-anchor="end" font-weight="normal" fill="#000">5</text>
<line x1="456.7" y1="224.8" x2="459.7" y2="224.8" stroke="#333" stroke-width="0.9"/>
<text x="454.7" y="227.3" font-size="7.3" text-anchor="end" font-weight="normal" fill="#000">10</text>
<line x1="456.7" y1="201.7" x2="459.7" y2="201.7" stroke="#333" stroke-width="0.9"/>
<text x="454.7" y="204.2" font-size="7.3" text-anchor="end" font-weight="normal" fill="#000">15</text>
<line x1="456.7" y1="178.6" x2="459.7" y2="178.6" stroke="#333" stroke-width="0.9"/>
<text x="454.7" y="181.1" font-size="7.3" text-anchor="end" font-weight="normal" fill="#000">20</text>
<line x1="459.7" y1="271.0" x2="459.7" y2="274.0" stroke="#333" stroke-width="0.9"/>
<text x="459.7" y="282.2" font-size="7.3" text-anchor="middle" font-weight="normal" fill="#000">0</text>
<line x1="478.44" y1="271.0" x2="478.44" y2="274.0" stroke="#333" stroke-width="0.9"/>
<text x="478.44" y="282.2" font-size="7.3" text-anchor="middle" font-weight="normal" fill="#000">2</text>
<line x1="497.18" y1="271.0" x2="497.18" y2="274.0" stroke="#333" stroke-width="0.9"/>
<text x="497.18" y="282.2" font-size="7.3" text-anchor="middle" font-weight="normal" fill="#000">4</text>
<line x1="515.92" y1="271.0" x2="515.92" y2="274.0" stroke="#333" stroke-width="0.9"/>
<text x="515.92" y="282.2" font-size="7.3" text-anchor="middle" font-weight="normal" fill="#000">6</text>
<line x1="534.66" y1="271.0" x2="534.66" y2="274.0" stroke="#333" stroke-width="0.9"/>
<text x="534.66" y="282.2" font-size="7.3" text-anchor="middle" font-weight="normal" fill="#000">8</text>
<line x1="553.4" y1="271.0" x2="553.4" y2="274.0" stroke="#333" stroke-width="0.9"/>
<text x="553.4" y="282.2" font-size="7.3" text-anchor="middle" font-weight="normal" fill="#000">10</text>
<text x="506.84999999999997" y="293.6" font-size="7.3" text-anchor="middle" font-weight="normal" fill="#000">Time (h)</text>
<text x="441.8" y="227.2" font-size="7.3" text-anchor="middle" font-weight="normal" fill="#000" transform="rotate(-90 441.8 227.2)">P-YAP S397/YAP ratio</text>
<rect x="550.60" y="177.00" width="5.80" height="5.60" fill="#bcbcbc" stroke="#222" stroke-width="0.8"/>
<rect x="550.60" y="188.60" width="5.80" height="5.60" fill="#9d1b22" stroke="#222" stroke-width="0.8"/>
<text x="558.9" y="182.2" font-size="7.3" text-anchor="start" font-weight="normal" fill="#000">siC</text>
<text x="558.9" y="194.0" font-size="7.3" text-anchor="start" font-weight="normal" fill="#000">siSTK25</text>
</g>
<g id="panel-d">
<line x1="59.3" y1="317.8" x2="59.3" y2="459.1" stroke="#111" stroke-width="0.8"/>
<line x1="56.3" y1="459.1" x2="59.3" y2="459.1" stroke="#111" stroke-width="0.8"/>
<text x="53.0" y="461.6" font-size="7.3" text-anchor="end" font-weight="normal" fill="#000">0</text>
<line x1="56.3" y1="430.84000000000003" x2="59.3" y2="430.84000000000003" stroke="#111" stroke-width="0.8"/>
<text x="53.0" y="433.34000000000003" font-size="7.3" text-anchor="end" font-weight="normal" fill="#000">5</text>
<line x1="56.3" y1="402.58000000000004" x2="59.3" y2="402.58000000000004" stroke="#111" stroke-width="0.8"/>
<text x="53.0" y="405.08000000000004" font-size="7.3" text-anchor="end" font-weight="normal" fill="#000">15</text>
<line x1="56.3" y1="374.32000000000005" x2="59.3" y2="374.32000000000005" stroke="#111" stroke-width="0.8"/>
<text x="53.0" y="376.82000000000005" font-size="7.3" text-anchor="end" font-weight="normal" fill="#000">20</text>
<line x1="56.3" y1="346.06" x2="59.3" y2="346.06" stroke="#111" stroke-width="0.8"/>
<text x="53.0" y="348.56" font-size="7.3" text-anchor="end" font-weight="normal" fill="#000">25</text>
<line x1="56.3" y1="317.8" x2="59.3" y2="317.8" stroke="#111" stroke-width="0.8"/>
<text x="53.0" y="320.3" font-size="7.3" text-anchor="end" font-weight="normal" fill="#000">30</text>
<text x="36.8" y="391.7" font-size="7.3" text-anchor="middle" fill="#000" transform="rotate(-90 36.8 391.7)">% S/G<tspan font-size="4.7" dy="1.5">2</tspan><tspan dy="-1.5"> cells</tspan></text>
<line x1="82.65" y1="419.0" x2="82.65" y2="411.2" stroke="#222" stroke-width="0.9"/>
<line x1="76.65" y1="411.2" x2="88.65" y2="411.2" stroke="#222" stroke-width="0.9"/>
<rect x="71.40" y="419.00" width="22.50" height="40.10" fill="#a2a2a2" stroke="#1a1a1a" stroke-width="0.6"/>
<line x1="82.65" y1="459.1" x2="82.65" y2="464.40000000000003" stroke="#222" stroke-width="0.9"/>
<line x1="116.65" y1="376.0" x2="116.65" y2="367.4" stroke="#222" stroke-width="0.9"/>
<line x1="110.65" y1="367.4" x2="122.65" y2="367.4" stroke="#222" stroke-width="0.9"/>
<rect x="105.30" y="376.00" width="22.70" height="83.10" fill="#9d1b22" stroke="#1a1a1a" stroke-width="0.6"/>
<line x1="116.65" y1="459.1" x2="116.65" y2="464.40000000000003" stroke="#222" stroke-width="0.9"/>
<line x1="151.25" y1="355.3" x2="151.25" y2="344.4" stroke="#222" stroke-width="0.9"/>
<line x1="145.25" y1="344.4" x2="157.25" y2="344.4" stroke="#222" stroke-width="0.9"/>
<rect x="139.80" y="355.30" width="22.90" height="103.80" fill="#000" stroke="#1a1a1a" stroke-width="0.6"/>
<line x1="151.25" y1="459.1" x2="151.25" y2="464.40000000000003" stroke="#222" stroke-width="0.9"/>
<line x1="59.3" y1="459.1" x2="174.6" y2="459.1" stroke="#111" stroke-width="0.8"/>
<path d="M78.6 406 V317.8 H151.4 V337.3" stroke="#111" stroke-width="0.8" fill="none"/>
<path d="M81.5 406 V348.7 H116.7 V362.5" stroke="#111" stroke-width="0.8" fill="none"/>
<text x="115.5" y="316.9" font-size="8.8" text-anchor="middle" font-weight="normal" fill="#000">****</text>
<text x="100.3" y="347.9" font-size="8.8" text-anchor="middle" font-weight="normal" fill="#000">**</text>
<text x="81.7" y="474.4" font-size="7.3" text-anchor="middle" font-weight="normal" fill="#000">siC</text>
<text x="116.3" y="474.4" font-size="7.3" text-anchor="middle" font-weight="normal" fill="#000">siSTK25</text>
<text x="151.9" y="474.4" font-size="7.3" text-anchor="middle" font-weight="normal" fill="#000">siLATS1/2</text>
<line x1="65.7" y1="476.3" x2="169.8" y2="476.3" stroke="#111" stroke-width="0.8"/>
<text x="117.6" y="486.4" font-size="7.3" text-anchor="middle" font-weight="normal" fill="#000">Post-72 h contact inhibition</text>
<text x="117.6" y="496.7" font-size="7.3" text-anchor="middle" font-weight="normal" fill="#000">hTERT-RPE-1-FUCCI</text>
</g>
<g id="panel-e">
<text x="237.3" y="323.3" font-size="7.3" text-anchor="middle" font-weight="normal" fill="#000">DNA</text>
<text x="286.2" y="323.3" font-size="7.3" text-anchor="middle" font-weight="normal" fill="#000">EdU</text>
<text x="335.1" y="323.3" font-size="7.3" text-anchor="middle" font-weight="normal" fill="#000">Merged</text>
<text x="211.2" y="350.4" font-size="7.3" text-anchor="middle" font-weight="normal" fill="#000" transform="rotate(-90 211.2 350.4)">siC</text>
<text x="211.2" y="398.8" font-size="7.3" text-anchor="middle" font-weight="normal" fill="#000" transform="rotate(-90 211.2 398.8)">siSTK25</text>
<text x="211.2" y="447.6" font-size="7.3" text-anchor="middle" font-weight="normal" fill="#000" transform="rotate(-90 211.2 447.6)">siTP53</text>
<line x1="364.6" y1="327" x2="364.6" y2="472" stroke="#222" stroke-width="0.8"/>
<text x="375.7" y="401.5" font-size="6.9" text-anchor="middle" font-weight="normal" fill="#000" transform="rotate(-90 375.7 401.5)">hTERT-RPE-1</text>
<clipPath id="c10"><rect x="214.5" y="326.5" width="47.6" height="47.6"/></clipPath>
<rect x="214.5" y="326.5" width="47.6" height="47.6" fill="#000"/>
<g clip-path="url(#c10)" filter="url(#cb)">
<ellipse cx="220.4" cy="332.7" rx="5.1" ry="3.3" fill="#d6d6d6" transform="rotate(-40 220.4 332.7)"/>
<ellipse cx="235.6" cy="336.1" rx="3.5" ry="2.7" fill="#d6d6d6" transform="rotate(30 235.6 336.1)"/>
<g fill="#b4b4b4" transform="rotate(45 251.1 337.1)"><ellipse cx="248.6" cy="337.1" rx="3.13" ry="2.7"/><ellipse cx="253.6" cy="337.1" rx="3.13" ry="2.48"/></g>
<g fill="#b4b4b4" transform="rotate(33 228.3 353.5)"><ellipse cx="225.8" cy="353.5" rx="3.13" ry="3.0"/><ellipse cx="230.8" cy="353.5" rx="3.13" ry="2.76"/></g>
<ellipse cx="250.4" cy="354.7" rx="3.4" ry="2.5" fill="#b4b4b4" transform="rotate(-20 250.4 354.7)"/>
<ellipse cx="255.8" cy="358.9" rx="2.5" ry="3.2" fill="#b4b4b4" transform="rotate(10 255.8 358.9)"/>
<g fill="#b4b4b4" transform="rotate(-15 219.6 367.5)"><ellipse cx="217.6" cy="367.5" rx="2.55" ry="2.9"/><ellipse cx="221.6" cy="367.5" rx="2.55" ry="2.67"/></g>
</g>
<clipPath id="c11"><rect x="263.4" y="326.5" width="47.6" height="47.6"/></clipPath>
<rect x="263.4" y="326.5" width="47.6" height="47.6" fill="#000"/>
<g clip-path="url(#c11)" filter="url(#cb)">
<ellipse cx="269.3" cy="332.7" rx="5.1" ry="3.3" fill="rgb(38,192,63)" transform="rotate(-40 269.3 332.7)"/>
<ellipse cx="284.5" cy="336.1" rx="3.5" ry="2.7" fill="rgb(36,184,61)" transform="rotate(30 284.5 336.1)"/>
</g>
<clipPath id="c12"><rect x="312.3" y="326.5" width="47.6" height="47.6"/></clipPath>
<rect x="312.3" y="326.5" width="47.6" height="47.6" fill="#000"/>
<g clip-path="url(#c12)" filter="url(#cb)">
<ellipse cx="318.2" cy="332.7" rx="5.1" ry="3.3" fill="rgb(164,224,165)" transform="rotate(-40 318.2 332.7)"/>
<ellipse cx="333.4" cy="336.1" rx="3.5" ry="2.7" fill="rgb(158,218,160)" transform="rotate(30 333.4 336.1)"/>
<g fill="#b4b4b4" transform="rotate(45 348.9 337.1)"><ellipse cx="346.4" cy="337.1" rx="3.13" ry="2.7"/><ellipse cx="351.4" cy="337.1" rx="3.13" ry="2.48"/></g>
<g fill="#b4b4b4" transform="rotate(33 326.1 353.5)"><ellipse cx="323.6" cy="353.5" rx="3.13" ry="3.0"/><ellipse cx="328.6" cy="353.5" rx="3.13" ry="2.76"/></g>
<ellipse cx="348.2" cy="354.7" rx="3.4" ry="2.5" fill="#b4b4b4" transform="rotate(-20 348.2 354.7)"/>
<ellipse cx="353.6" cy="358.9" rx="2.5" ry="3.2" fill="#b4b4b4" transform="rotate(10 353.6 358.9)"/>
<g fill="#b4b4b4" transform="rotate(-15 317.4 367.5)"><ellipse cx="315.4" cy="367.5" rx="2.55" ry="2.9"/><ellipse cx="319.4" cy="367.5" rx="2.55" ry="2.67"/></g>
</g>
<clipPath id="c13"><rect x="214.5" y="375.1" width="47.6" height="47.6"/></clipPath>
<rect x="214.5" y="375.1" width="47.6" height="47.6" fill="#000"/>
<g clip-path="url(#c13)" filter="url(#cb)">
<ellipse cx="217.0" cy="378.8" rx="2.7" ry="4.8" fill="#b4b4b4" transform="rotate(-20 217.0 378.8)"/>
<g fill="#b4b4b4" transform="rotate(0 235.5 376.3)"><ellipse cx="233.3" cy="376.3" rx="2.78" ry="2.9"/><ellipse cx="237.7" cy="376.3" rx="2.78" ry="2.67"/></g>
<ellipse cx="249.7" cy="374.5" rx="3" ry="1.8" fill="#d6d6d6" transform="rotate(0 249.7 374.5)"/>
<ellipse cx="252.1" cy="386.7" rx="3.9" ry="3.9" fill="#b4b4b4" transform="rotate(0 252.1 386.7)"/>
<g fill="#d6d6d6" transform="rotate(10 228.8 393.7)"><ellipse cx="226.6" cy="393.7" rx="2.73" ry="2.8"/><ellipse cx="231.0" cy="393.7" rx="2.73" ry="2.58"/></g>
<g fill="#d6d6d6" transform="rotate(80 256.7 398.1)"><ellipse cx="254.3" cy="398.1" rx="3.02" ry="2.9"/><ellipse cx="259.1" cy="398.1" rx="3.02" ry="2.67"/></g>
<g fill="#b4b4b4" transform="rotate(-35 235.6 406.1)"><ellipse cx="233.7" cy="406.1" rx="2.44" ry="3.1"/><ellipse cx="237.5" cy="406.1" rx="2.44" ry="2.85"/></g>
<g fill="#d6d6d6" transform="rotate(-30 242.6 416.3)"><ellipse cx="240.6" cy="416.3" rx="2.49" ry="3.0"/><ellipse cx="244.6" cy="416.3" rx="2.49" ry="2.76"/></g>
<ellipse cx="261.1" cy="418.1" rx="2.6" ry="2.8" fill="#d6d6d6" transform="rotate(0 261.1 418.1)"/>
</g>
<clipPath id="c14"><rect x="263.4" y="375.1" width="47.6" height="47.6"/></clipPath>
<rect x="263.4" y="375.1" width="47.6" height="47.6" fill="#0a130c"/>
<g clip-path="url(#c14)" filter="url(#cb)">
<ellipse cx="298.6" cy="374.5" rx="3" ry="1.8" fill="rgb(32,168,57)" transform="rotate(0 298.6 374.5)"/>
<g fill="rgb(38,192,63)" transform="rotate(10 277.7 393.7)"><ellipse cx="275.5" cy="393.7" rx="2.73" ry="2.8"/><ellipse cx="279.9" cy="393.7" rx="2.73" ry="2.58"/></g>
<g fill="rgb(40,200,65)" transform="rotate(80 305.6 398.1)"><ellipse cx="303.2" cy="398.1" rx="3.02" ry="2.9"/><ellipse cx="308.0" cy="398.1" rx="3.02" ry="2.67"/></g>
<g fill="rgb(32,168,57)" transform="rotate(-30 291.5 416.3)"><ellipse cx="289.5" cy="416.3" rx="2.49" ry="3.0"/><ellipse cx="293.5" cy="416.3" rx="2.49" ry="2.76"/></g>
<ellipse cx="310.0" cy="418.1" rx="2.6" ry="2.8" fill="rgb(36,184,61)" transform="rotate(0 310.0 418.1)"/>
</g>
<clipPath id="c15"><rect x="312.3" y="375.1" width="47.6" height="47.6"/></clipPath>
<rect x="312.3" y="375.1" width="47.6" height="47.6" fill="#0a130c"/>
<g clip-path="url(#c15)" filter="url(#cb)">
<ellipse cx="314.8" cy="378.8" rx="2.7" ry="4.8" fill="#b4b4b4" transform="rotate(-20 314.8 378.8)"/>
<g fill="#b4b4b4" transform="rotate(0 333.3 376.3)"><ellipse cx="331.1" cy="376.3" rx="2.78" ry="2.9"/><ellipse cx="335.5" cy="376.3" rx="2.78" ry="2.67"/></g>
<ellipse cx="347.5" cy="374.5" rx="3" ry="1.8" fill="rgb(146,206,150)" transform="rotate(0 347.5 374.5)"/>
<ellipse cx="349.9" cy="386.7" rx="3.9" ry="3.9" fill="#b4b4b4" transform="rotate(0 349.9 386.7)"/>
<g fill="rgb(164,224,165)" transform="rotate(10 326.6 393.7)"><ellipse cx="324.4" cy="393.7" rx="2.73" ry="2.8"/><ellipse cx="328.8" cy="393.7" rx="2.73" ry="2.58"/></g>
<g fill="rgb(170,230,170)" transform="rotate(80 354.5 398.1)"><ellipse cx="352.1" cy="398.1" rx="3.02" ry="2.9"/><ellipse cx="356.9" cy="398.1" rx="3.02" ry="2.67"/></g>
<g fill="#b4b4b4" transform="rotate(-35 333.4 406.1)"><ellipse cx="331.5" cy="406.1" rx="2.44" ry="3.1"/><ellipse cx="335.3" cy="406.1" rx="2.44" ry="2.85"/></g>
<g fill="rgb(146,206,150)" transform="rotate(-30 340.4 416.3)"><ellipse cx="338.4" cy="416.3" rx="2.49" ry="3.0"/><ellipse cx="342.4" cy="416.3" rx="2.49" ry="2.76"/></g>
<ellipse cx="358.9" cy="418.1" rx="2.6" ry="2.8" fill="rgb(158,218,160)" transform="rotate(0 358.9 418.1)"/>
</g>
<clipPath id="c16"><rect x="214.5" y="423.8" width="47.6" height="47.6"/></clipPath>
<rect x="214.5" y="423.8" width="47.6" height="47.6" fill="#000"/>
<g clip-path="url(#c16)" filter="url(#cb)">
<ellipse cx="253.9" cy="424.4" rx="2.6" ry="2" fill="#d6d6d6" transform="rotate(0 253.9 424.4)"/>
<ellipse cx="232.0" cy="435.1" rx="3" ry="3" fill="#d6d6d6" transform="rotate(0 232.0 435.1)"/>
<g fill="#d6d6d6" transform="rotate(20 221.5 447.8)"><ellipse cx="219.0" cy="447.8" rx="3.19" ry="3.8"/><ellipse cx="224.0" cy="447.8" rx="3.19" ry="3.50"/></g>
<ellipse cx="253.1" cy="449.6" rx="1.8" ry="4.5" fill="#d6d6d6" transform="rotate(-8 253.1 449.6)"/>
<ellipse cx="257.8" cy="450.0" rx="1.8" ry="4.5" fill="#d6d6d6" transform="rotate(-8 257.8 450.0)"/>
<ellipse cx="240.2" cy="453.7" rx="2.4" ry="2.2" fill="#b4b4b4" transform="rotate(0 240.2 453.7)"/>
<ellipse cx="219.8" cy="458.1" rx="1.7" ry="2.7" fill="#f0f0f0" transform="rotate(0 219.8 458.1)"/>
<ellipse cx="256.9" cy="460.6" rx="1.9" ry="2.3" fill="#f0f0f0" transform="rotate(0 256.9 460.6)"/>
<g fill="#d6d6d6" transform="rotate(-70 232.9 465.1)"><ellipse cx="230.6" cy="465.1" rx="2.84" ry="3.7"/><ellipse cx="235.2" cy="465.1" rx="2.84" ry="3.40"/></g>
</g>
<ellipse cx="219.8" cy="458.1" rx="1.22" ry="1.94" fill="#f4f4f4" opacity="0.8" filter="url(#sb)"/>
<ellipse cx="256.9" cy="460.6" rx="1.37" ry="1.66" fill="#f4f4f4" opacity="0.8" filter="url(#sb)"/>
<clipPath id="c17"><rect x="263.4" y="423.8" width="47.6" height="47.6"/></clipPath>
<rect x="263.4" y="423.8" width="47.6" height="47.6" fill="#000"/>
<g clip-path="url(#c17)" filter="url(#cb)">
<ellipse cx="302.8" cy="424.4" rx="2.6" ry="2" fill="rgb(34,176,59)" transform="rotate(0 302.8 424.4)"/>
<ellipse cx="280.9" cy="435.1" rx="3" ry="3" fill="rgb(36,184,61)" transform="rotate(0 280.9 435.1)"/>
<g fill="rgb(37,188,62)" transform="rotate(20 270.4 447.8)"><ellipse cx="267.9" cy="447.8" rx="3.19" ry="3.8"/><ellipse cx="272.9" cy="447.8" rx="3.19" ry="3.50"/></g>
<ellipse cx="302.0" cy="449.6" rx="1.8" ry="4.5" fill="rgb(37,188,62)" transform="rotate(-8 302.0 449.6)"/>
<ellipse cx="306.7" cy="450.0" rx="1.8" ry="4.5" fill="rgb(37,188,62)" transform="rotate(-8 306.7 450.0)"/>
<g fill="rgb(38,192,63)" transform="rotate(-70 281.8 465.1)"><ellipse cx="279.5" cy="465.1" rx="2.84" ry="3.7"/><ellipse cx="284.1" cy="465.1" rx="2.84" ry="3.40"/></g>
</g>
<clipPath id="c18"><rect x="312.3" y="423.8" width="47.6" height="47.6"/></clipPath>
<rect x="312.3" y="423.8" width="47.6" height="47.6" fill="#000"/>
<g clip-path="url(#c18)" filter="url(#cb)">
<ellipse cx="351.7" cy="424.4" rx="2.6" ry="2" fill="rgb(152,212,155)" transform="rotate(0 351.7 424.4)"/>
<ellipse cx="329.8" cy="435.1" rx="3" ry="3" fill="rgb(158,218,160)" transform="rotate(0 329.8 435.1)"/>
<g fill="rgb(161,221,162)" transform="rotate(20 319.3 447.8)"><ellipse cx="316.8" cy="447.8" rx="3.19" ry="3.8"/><ellipse cx="321.8" cy="447.8" rx="3.19" ry="3.50"/></g>
<ellipse cx="350.9" cy="449.6" rx="1.8" ry="4.5" fill="rgb(161,221,162)" transform="rotate(-8 350.9 449.6)"/>
<ellipse cx="355.6" cy="450.0" rx="1.8" ry="4.5" fill="rgb(161,221,162)" transform="rotate(-8 355.6 450.0)"/>
<ellipse cx="338.0" cy="453.7" rx="2.4" ry="2.2" fill="#b4b4b4" transform="rotate(0 338.0 453.7)"/>
<ellipse cx="317.6" cy="458.1" rx="1.7" ry="2.7" fill="#f0f0f0" transform="rotate(0 317.6 458.1)"/>
<ellipse cx="354.7" cy="460.6" rx="1.9" ry="2.3" fill="#f0f0f0" transform="rotate(0 354.7 460.6)"/>
<g fill="rgb(164,224,165)" transform="rotate(-70 330.7 465.1)"><ellipse cx="328.4" cy="465.1" rx="2.84" ry="3.7"/><ellipse cx="333.0" cy="465.1" rx="2.84" ry="3.40"/></g>
</g>
<ellipse cx="317.6" cy="458.1" rx="1.22" ry="1.94" fill="#f4f4f4" opacity="0.8" filter="url(#sb)"/>
<ellipse cx="354.7" cy="460.6" rx="1.37" ry="1.66" fill="#f4f4f4" opacity="0.8" filter="url(#sb)"/>
<rect x="350.20" y="468.80" width="7.10" height="1.60" fill="#fff" stroke="none" stroke-width="0"/>
</g>
<g id="panel-f" transform="translate(0 0.3)">
<text x="483.5" y="317.9" font-size="7.3" text-anchor="middle" font-weight="normal" fill="#000">hTERT-RPE-1</text>
<line x1="427.7" y1="341.8" x2="427.7" y2="475.6" stroke="#111" stroke-width="0.8"/>
<line x1="424.7" y1="475.6" x2="427.7" y2="475.6" stroke="#111" stroke-width="0.8"/>
<text x="422.5" y="478.1" font-size="7.3" text-anchor="end" font-weight="normal" fill="#000">0</text>
<line x1="424.7" y1="431.0" x2="427.7" y2="431.0" stroke="#111" stroke-width="0.8"/>
<text x="422.5" y="433.5" font-size="7.3" text-anchor="end" font-weight="normal" fill="#000">20</text>
<line x1="424.7" y1="386.40000000000003" x2="427.7" y2="386.40000000000003" stroke="#111" stroke-width="0.8"/>
<text x="422.5" y="388.90000000000003" font-size="7.3" text-anchor="end" font-weight="normal" fill="#000">40</text>
<line x1="424.7" y1="341.8" x2="427.7" y2="341.8" stroke="#111" stroke-width="0.8"/>
<text x="422.5" y="344.3" font-size="7.3" text-anchor="end" font-weight="normal" fill="#000">60</text>
<text x="406.9" y="407.2" font-size="7.3" text-anchor="middle" font-weight="normal" fill="#000" transform="rotate(-90 406.9 407.2)">% EdU positive tetraploid cells</text>
<line x1="450.4" y1="450.0" x2="450.4" y2="444.8" stroke="#222" stroke-width="0.9"/>
<line x1="444.9" y1="444.8" x2="455.9" y2="444.8" stroke="#222" stroke-width="0.9"/>
<rect x="439.60" y="450.00" width="21.60" height="25.60" fill="#a2a2a2" stroke="#1a1a1a" stroke-width="0.6"/>
<line x1="450.4" y1="475.6" x2="450.4" y2="479.0" stroke="#222" stroke-width="0.9"/>
<line x1="483.8" y1="419.1" x2="483.8" y2="414.3" stroke="#222" stroke-width="0.9"/>
<line x1="478.3" y1="414.3" x2="489.3" y2="414.3" stroke="#222" stroke-width="0.9"/>
<rect x="472.80" y="419.10" width="22.00" height="56.50" fill="#9d1b22" stroke="#1a1a1a" stroke-width="0.6"/>
<line x1="483.8" y1="475.6" x2="483.8" y2="479.0" stroke="#222" stroke-width="0.9"/>
<line x1="517.2" y1="367.4" x2="517.2" y2="347.2" stroke="#222" stroke-width="0.9"/>
<line x1="511.70000000000005" y1="347.2" x2="522.7" y2="347.2" stroke="#222" stroke-width="0.9"/>
<rect x="506.40" y="367.40" width="21.60" height="108.20" fill="#000" stroke="#1a1a1a" stroke-width="0.6"/>
<line x1="517.2" y1="475.6" x2="517.2" y2="479.0" stroke="#222" stroke-width="0.9"/>
<line x1="427.7" y1="475.6" x2="539.6" y2="475.6" stroke="#111" stroke-width="0.8"/>
<path d="M449.2 438.7 V336.6 H517.4 V341.1" stroke="#111" stroke-width="0.7" fill="none"/>
<path d="M451.6 438.7 V400.3 H483.5 V409.6" stroke="#111" stroke-width="0.7" fill="none"/>
<text x="483.5" y="335" font-size="8.8" text-anchor="middle" font-weight="normal" fill="#000">*</text>
<text x="466" y="398.5" font-size="8.8" text-anchor="middle" font-weight="normal" fill="#000">*</text>
<text x="450.6" y="490.8" font-size="7.3" text-anchor="middle" font-weight="normal" fill="#000">siC</text>
<text x="483.5" y="490.8" font-size="7.3" text-anchor="middle" font-weight="normal" fill="#000">siSTK25</text>
<text x="517" y="490.8" font-size="7.3" text-anchor="middle" font-weight="normal" fill="#000">siTP53</text>
</g>
<g id="panel-g">
<text x="89.7" y="547.7" font-size="7.3" text-anchor="start" font-weight="normal" fill="#000" transform="rotate(-45 89.7 547.7)">CTRL</text>
<text x="112.7" y="547.7" font-size="7.3" text-anchor="start" font-weight="normal" fill="#000" transform="rotate(-45 112.7 547.7)">STK25 KO</text>
<clipPath id="c19"><rect x="80.3" y="549.5" width="41.5" height="12.9"/></clipPath>
<rect x="80.30" y="549.50" width="41.50" height="12.90" fill="url(#hm)" stroke="none" stroke-width="0"/>
<g clip-path="url(#c19)">
<rect x="83.00" y="553.95" width="16.00" height="4.50" rx="2.25" fill="#000" opacity="0.3" filter="url(#b1)"/>
<rect x="101.95" y="553.00" width="18.50" height="5.20" rx="2.60" fill="#000" opacity="0.8" filter="url(#b1)"/>
</g>
<rect x="80.30" y="549.50" width="41.50" height="12.90" fill="none" stroke="#000" stroke-width="0.9"/>
<text x="76.2" y="559.45" font-size="7.3" text-anchor="end" font-weight="normal" fill="#000">Anti-P-LATS-HM</text>
<line x1="121.8" y1="552.3" x2="130.4" y2="552.3" stroke="#222" stroke-width="0.8"/>
<text x="131.8" y="555.1999999999999" font-size="7.3" text-anchor="start" font-weight="normal" fill="#000">150</text>
<clipPath id="c20"><rect x="80.3" y="565.5" width="41.5" height="12.9"/></clipPath>
<rect x="80.30" y="565.50" width="41.50" height="12.90" fill="#f3f3f3" stroke="none" stroke-width="0"/>
<g clip-path="url(#c20)">
<rect x="83.00" y="570.65" width="16.00" height="3.30" rx="1.65" fill="#000" opacity="0.95" filter="url(#b1)"/>
<rect x="103.20" y="570.80" width="16.00" height="3.60" rx="1.80" fill="#000" opacity="0.33" filter="url(#b1)"/>
</g>
<rect x="80.30" y="565.50" width="41.50" height="12.90" fill="none" stroke="#000" stroke-width="0.9"/>
<text x="76.2" y="575.25" font-size="7.3" text-anchor="end" font-weight="normal" fill="#000">Anti-P-LATS-AL</text>
<line x1="121.8" y1="569.4" x2="130.4" y2="569.4" stroke="#222" stroke-width="0.8"/>
<text x="131.8" y="572.3" font-size="7.3" text-anchor="start" font-weight="normal" fill="#000">150</text>
<clipPath id="c21"><rect x="80.3" y="581.5" width="41.5" height="12.0"/></clipPath>
<rect x="80.30" y="581.50" width="41.50" height="12.00" fill="#f3f3f3" stroke="none" stroke-width="0"/>
<g clip-path="url(#c21)">
<rect x="82.50" y="585.15" width="17.00" height="3.30" rx="1.65" fill="#000" opacity="0.92" filter="url(#b1)"/>
<rect x="102.70" y="585.45" width="17.00" height="3.30" rx="1.65" fill="#000" opacity="0.85" filter="url(#b1)"/>
</g>
<rect x="80.30" y="581.50" width="41.50" height="12.00" fill="none" stroke="#000" stroke-width="0.9"/>
<text x="76.2" y="590.1999999999999" font-size="7.3" text-anchor="end" font-weight="normal" fill="#000">Anti-LATS1</text>
<line x1="121.8" y1="585.0" x2="130.4" y2="585.0" stroke="#222" stroke-width="0.8"/>
<text x="131.8" y="587.9" font-size="7.3" text-anchor="start" font-weight="normal" fill="#000">150</text>
<clipPath id="c22"><rect x="80.3" y="596.9" width="41.5" height="12.7"/></clipPath>
<rect x="80.30" y="596.90" width="41.50" height="12.70" fill="#f3f3f3" stroke="none" stroke-width="0"/>
<g clip-path="url(#c22)">
<rect x="82.75" y="602.35" width="16.50" height="3.30" rx="1.65" fill="#000" opacity="0.97" filter="url(#b1)"/>
</g>
<rect x="80.30" y="596.90" width="41.50" height="12.70" fill="none" stroke="#000" stroke-width="0.9"/>
<text x="76.2" y="606.05" font-size="7.3" text-anchor="end" font-weight="normal" fill="#000">Anti-STK25</text>
<line x1="121.8" y1="603.1" x2="130.4" y2="603.1" stroke="#222" stroke-width="0.8"/>
<text x="131.8" y="606.0" font-size="7.3" text-anchor="start" font-weight="normal" fill="#000">50</text>
<clipPath id="c23"><rect x="80.3" y="613.1" width="41.5" height="13.3"/></clipPath>
<rect x="80.30" y="613.10" width="41.50" height="13.30" fill="#f3f3f3" stroke="none" stroke-width="0"/>
<g clip-path="url(#c23)">
<rect x="82.25" y="618.30" width="17.50" height="3.40" rx="1.70" fill="#000" opacity="0.95" filter="url(#b1)"/>
<rect x="102.45" y="618.60" width="17.50" height="3.40" rx="1.70" fill="#000" opacity="0.92" filter="url(#b1)"/>
</g>
<rect x="80.30" y="613.10" width="41.50" height="13.30" fill="none" stroke="#000" stroke-width="0.9"/>
<text x="76.2" y="623.35" font-size="7.3" text-anchor="end" font-weight="normal" fill="#000">Anti-GAPDH</text>
<line x1="121.8" y1="618.2" x2="130.4" y2="618.2" stroke="#222" stroke-width="0.8"/>
<text x="131.8" y="621.1" font-size="7.3" text-anchor="start" font-weight="normal" fill="#000">37</text>
<line x1="80.3" y1="632.8" x2="121.8" y2="632.8" stroke="#a0a0a0" stroke-width="1.1"/>
<text x="101.2" y="642.5" font-size="7.3" text-anchor="middle" font-weight="normal" fill="#000">Contact inhibited</text>
<text x="101.2" y="650.1" font-size="7.3" text-anchor="middle" font-weight="normal" fill="#000">HEK293A</text>
</g>
<g id="panel-g-hm">
<line x1="181" y1="535.5" x2="181" y2="640.9" stroke="#111" stroke-width="0.8"/>
<line x1="178" y1="640.9" x2="181" y2="640.9" stroke="#111" stroke-width="0.8"/>
<text x="174.7" y="643.4" font-size="7.3" text-anchor="end" font-weight="normal" fill="#000">0</text>
<line x1="178" y1="619.8199999999999" x2="181" y2="619.8199999999999" stroke="#111" stroke-width="0.8"/>
<text x="174.7" y="622.3199999999999" font-size="7.3" text-anchor="end" font-weight="normal" fill="#000">1</text>
<line x1="178" y1="598.74" x2="181" y2="598.74" stroke="#111" stroke-width="0.8"/>
<text x="174.7" y="601.24" font-size="7.3" text-anchor="end" font-weight="normal" fill="#000">2</text>
<line x1="178" y1="577.66" x2="181" y2="577.66" stroke="#111" stroke-width="0.8"/>
<text x="174.7" y="580.16" font-size="7.3" text-anchor="end" font-weight="normal" fill="#000">3</text>
<line x1="178" y1="556.58" x2="181" y2="556.58" stroke="#111" stroke-width="0.8"/>
<text x="174.7" y="559.08" font-size="7.3" text-anchor="end" font-weight="normal" fill="#000">4</text>
<line x1="178" y1="535.5" x2="181" y2="535.5" stroke="#111" stroke-width="0.8"/>
<text x="174.7" y="538.0" font-size="7.3" text-anchor="end" font-weight="normal" fill="#000">5</text>
<text x="166.7" y="587.5" font-size="7.3" text-anchor="middle" font-weight="normal" fill="#000" transform="rotate(-90 166.7 587.5)">P-LATS-HM/LATS1 ratio</text>
<line x1="205.65" y1="619.7" x2="205.65" y2="615.3" stroke="#222" stroke-width="0.9"/>
<line x1="199.9" y1="615.3" x2="211.4" y2="615.3" stroke="#222" stroke-width="0.9"/>
<rect x="193.80" y="619.70" width="23.70" height="21.10" fill="#808080" stroke="#1a1a1a" stroke-width="0.6"/>
<line x1="205.65" y1="640.8" x2="205.65" y2="643.5999999999999" stroke="#222" stroke-width="0.9"/>
<line x1="241.10000000000002" y1="566.4" x2="241.10000000000002" y2="550.6" stroke="#222" stroke-width="0.9"/>
<line x1="235.20000000000002" y1="550.6" x2="247.00000000000003" y2="550.6" stroke="#222" stroke-width="0.9"/>
<rect x="229.30" y="566.40" width="23.60" height="74.40" fill="#9d1b22" stroke="#1a1a1a" stroke-width="0.6"/>
<line x1="241.10000000000002" y1="640.8" x2="241.10000000000002" y2="643.5999999999999" stroke="#222" stroke-width="0.9"/>
<line x1="181" y1="640.9" x2="265.3" y2="640.9" stroke="#111" stroke-width="0.8"/>
<path d="M205.6 613 V535.3 H241.1 V543.8" stroke="#111" stroke-width="0.7" fill="none"/>
<text x="223.2" y="535.3" font-size="8.8" text-anchor="middle" font-weight="normal" fill="#000">*</text>
<text x="222.35" y="518.4" font-size="7.3" text-anchor="middle" font-weight="normal" fill="#000">Hydrophobic motif</text>
<text x="205.6" y="654.3" font-size="7.3" text-anchor="middle" font-weight="normal" fill="#000">CTRL</text>
<text x="241.1" y="654.3" font-size="7.3" text-anchor="middle" font-weight="normal" fill="#000">STK25</text>
<text x="241.1" y="663.4" font-size="7.3" text-anchor="middle" font-weight="normal" fill="#000">KO</text>
<line x1="182" y1="667.1" x2="264.9" y2="667.1" stroke="#9a9a9a" stroke-width="1.1"/>
<text x="223.35" y="676.9" font-size="7.3" text-anchor="middle" font-weight="normal" fill="#000">Contact inhibited</text>
<text x="223.35" y="685.3" font-size="7.3" text-anchor="middle" font-weight="normal" fill="#000">HEK293A</text>
</g>
<g id="panel-g-al">
<line x1="313.2" y1="535.5" x2="313.2" y2="640.9" stroke="#111" stroke-width="0.8"/>
<line x1="310.2" y1="640.9" x2="313.2" y2="640.9" stroke="#111" stroke-width="0.8"/>
<text x="308.2" y="643.4" font-size="7.3" text-anchor="end" font-weight="normal" fill="#000">0</text>
<line x1="310.2" y1="605.7666666666667" x2="313.2" y2="605.7666666666667" stroke="#111" stroke-width="0.8"/>
<text x="308.2" y="608.2666666666667" font-size="7.3" text-anchor="end" font-weight="normal" fill="#000">0.5</text>
<line x1="310.2" y1="570.6333333333333" x2="313.2" y2="570.6333333333333" stroke="#111" stroke-width="0.8"/>
<text x="308.2" y="573.1333333333333" font-size="7.3" text-anchor="end" font-weight="normal" fill="#000">1</text>
<line x1="310.2" y1="535.5" x2="313.2" y2="535.5" stroke="#111" stroke-width="0.8"/>
<text x="308.2" y="538.0" font-size="7.3" text-anchor="end" font-weight="normal" fill="#000">1.5</text>
<text x="288.4" y="587.5" font-size="7.3" text-anchor="middle" font-weight="normal" fill="#000" transform="rotate(-90 288.4 587.5)">P-LATS-AL/LATS1 ratio</text>
<line x1="337.45000000000005" y1="571.2" x2="337.45000000000005" y2="567.1" stroke="#222" stroke-width="0.9"/>
<line x1="331.70000000000005" y1="567.1" x2="343.20000000000005" y2="567.1" stroke="#222" stroke-width="0.9"/>
<rect x="326.30" y="571.20" width="22.30" height="69.60" fill="#808080" stroke="#1a1a1a" stroke-width="0.6"/>
<line x1="337.45000000000005" y1="640.8" x2="337.45000000000005" y2="643.5999999999999" stroke="#222" stroke-width="0.9"/>
<line x1="370.7" y1="604.2" x2="370.7" y2="600.5" stroke="#222" stroke-width="0.9"/>
<line x1="365.09999999999997" y1="600.5" x2="376.3" y2="600.5" stroke="#222" stroke-width="0.9"/>
<rect x="359.40" y="604.20" width="22.60" height="36.60" fill="#9d1b22" stroke="#1a1a1a" stroke-width="0.6"/>
<line x1="370.7" y1="640.8" x2="370.7" y2="643.5999999999999" stroke="#222" stroke-width="0.9"/>
<line x1="313.2" y1="640.9" x2="393.8" y2="640.9" stroke="#111" stroke-width="0.8"/>
<path d="M337.5 564.1 V553.4 H370.5 V596.8" stroke="#111" stroke-width="0.7" fill="none"/>
<text x="354.3" y="552.6" font-size="8.8" text-anchor="middle" font-weight="normal" fill="#000">**</text>
<text x="354.3" y="518.4" font-size="7.3" text-anchor="middle" font-weight="normal" fill="#000">Activation loop</text>
<text x="337.5" y="654.3" font-size="7.3" text-anchor="middle" font-weight="normal" fill="#000">CTRL</text>
<text x="370.5" y="654.3" font-size="7.3" text-anchor="middle" font-weight="normal" fill="#000">STK25</text>
<text x="370.5" y="663.4" font-size="7.3" text-anchor="middle" font-weight="normal" fill="#000">KO</text>
<line x1="312.8" y1="667.1" x2="395.5" y2="667.1" stroke="#9a9a9a" stroke-width="1.1"/>
<text x="354.0" y="676.9" font-size="7.3" text-anchor="middle" font-weight="normal" fill="#000">Contact inhibited</text>
<text x="354.0" y="685.3" font-size="7.3" text-anchor="middle" font-weight="normal" fill="#000">HEK293A</text>
</g>
</svg></body></html>
